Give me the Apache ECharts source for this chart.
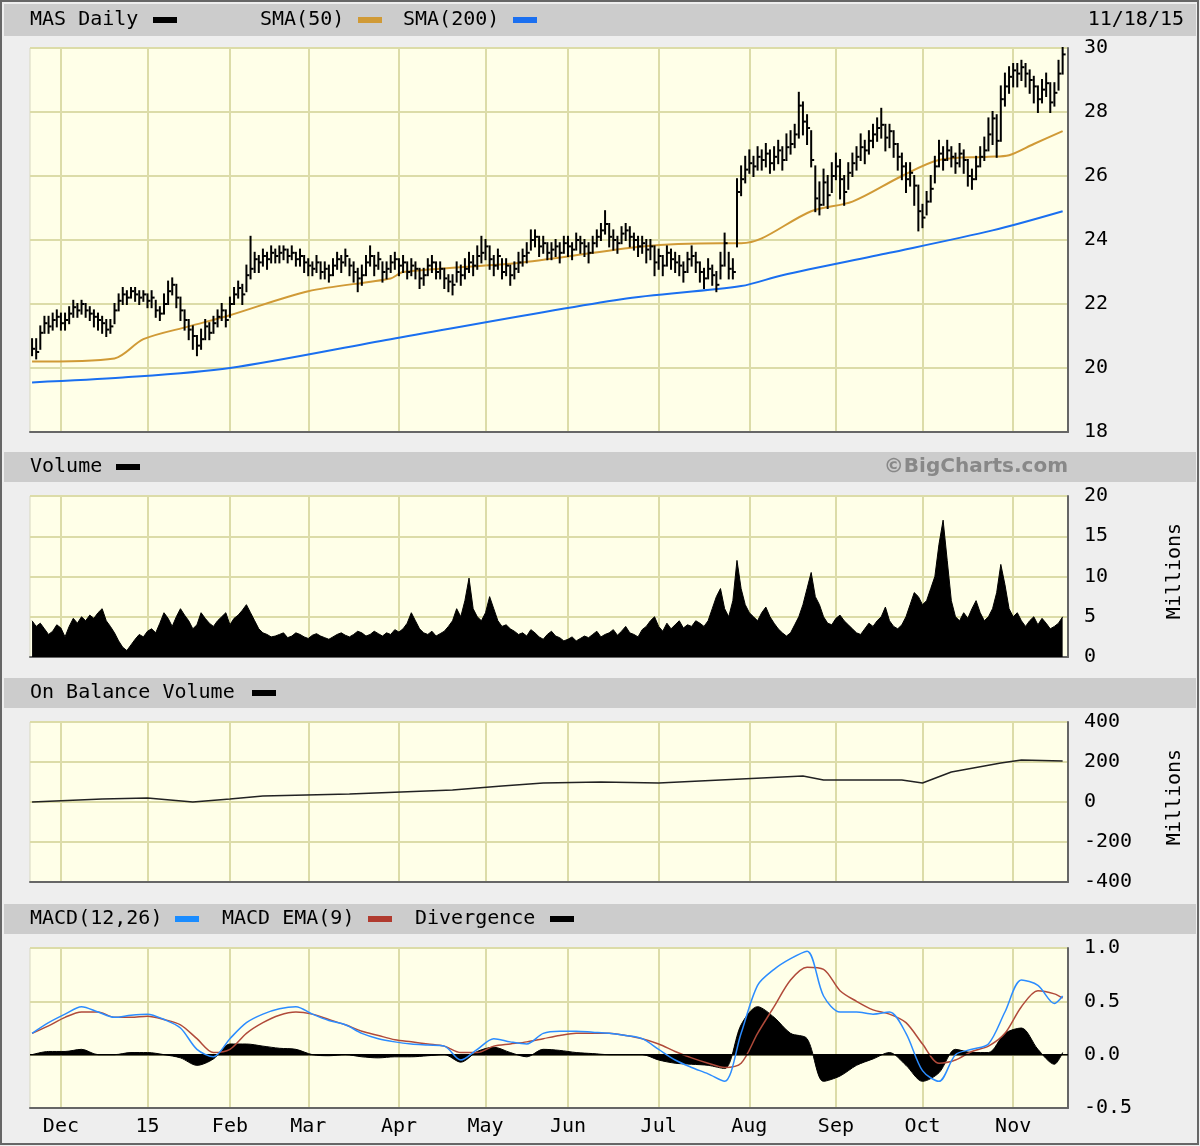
<!DOCTYPE html>
<html>
<head>
<meta charset="utf-8">
<script src="https://cdn.jsdelivr.net/npm/echarts@6/dist/echarts.min.js"></script>
<style>html,body{margin:0;padding:0;background:#eeeeee}#main{width:1200px;height:1146px}</style>
</head>
<body>
<div id="main"></div>
<script>
// trading-day index of each month's first session, and the labels under them
var monthTicks = [7, 28, 48, 67, 89, 110, 130, 152, 174, 195, 216, 238];
var monthLabels = ['Dec', '15', 'Feb', 'Mar', 'Apr', 'May', 'Jun', 'Jul', 'Aug', 'Sep', 'Oct', 'Nov'];

// daily close / high / low (Nov 19 2014 .. Nov 18 2015)
var closes = [
20.6,20.5,21.1,21.4,21.3,21.5,21.6,21.4,21.5,21.7, 21.9,21.8,22.0,21.8,21.7,21.6,21.5,21.4,21.2,21.3,
21.8,22.1,22.3,22.2,22.4,22.3,22.2,22.3,22.1,22.2, 21.8,21.7,22.0,22.4,22.6,22.2,21.8,21.5,21.2,21.0,
20.7,20.9,21.3,21.1,21.4,21.6,21.8,21.5,22.0,22.3, 22.5,22.3,22.9,23.1,23.4,23.3,23.5,23.4,23.6,23.5,
23.6,23.7,23.5,23.6,23.4,23.5,23.3,23.2,23.1,23.3, 23.0,23.1,22.9,23.2,23.4,23.3,23.5,23.2,23.0,22.8,
22.9,23.3,23.5,23.2,23.4,23.0,23.1,23.3,23.4,23.2, 23.3,23.0,23.2,23.1,22.8,22.9,23.2,23.3,23.0,23.1,
22.8,22.7,22.6,23.0,22.9,23.1,23.3,23.2,23.5,23.6, 23.8,23.4,23.2,23.5,23.0,23.2,22.9,23.1,23.3,23.5,
23.6,24.0,24.1,23.8,23.9,23.6,23.7,23.8,23.6,23.9, 23.8,23.7,24.0,23.9,23.8,23.6,23.9,24.1,24.3,24.5,
24.1,24.0,23.9,24.2,24.3,24.1,24.0,23.8,23.9,23.7, 23.8,23.3,23.5,23.2,23.6,23.4,23.3,23.2,23.0,23.4,
23.5,23.3,23.0,22.8,23.1,22.9,22.6,23.2,23.9,23.1, 23.0,25.5,25.9,26.2,26.4,26.3,26.6,26.5,26.7,26.4,
26.6,26.8,26.5,26.9,27.0,27.3,28.2,27.7,27.5,26.5, 25.3,25.1,25.8,25.4,26.0,26.3,25.9,25.5,26.1,26.4,
26.6,26.9,26.8,27.1,27.3,27.5,27.6,27.2,27.4,27.0, 26.6,26.3,25.9,26.1,25.7,24.9,24.7,25.2,25.6,26.3,
26.7,26.5,26.8,26.6,26.4,26.7,26.5,26.0,25.9,26.3, 26.6,26.8,27.3,27.8,27.1,28.4,28.8,29.1,29.3,29.2,
29.4,29.2,29.0,28.8,28.4,28.7,28.9,28.3,28.6,29.2,29.8];
var highs = [
20.9,20.9,21.3,21.6,21.6,21.7,21.8,21.7,21.7,21.9, 22.1,22.0,22.1,22.0,21.9,21.8,21.7,21.6,21.5,21.5,
22.0,22.3,22.5,22.4,22.5,22.5,22.4,22.4,22.3,22.4, 22.1,21.9,22.3,22.7,22.8,22.6,22.2,21.8,21.5,21.3,
21.0,21.2,21.5,21.4,21.6,21.8,22.0,21.8,22.2,22.5, 22.7,22.6,23.2,24.1,23.6,23.5,23.7,23.6,23.8,23.7,
23.8,23.8,23.7,23.8,23.6,23.7,23.5,23.4,23.3,23.5, 23.3,23.3,23.2,23.4,23.6,23.5,23.7,23.4,23.3,23.1,
23.2,23.5,23.8,23.5,23.6,23.3,23.3,23.5,23.6,23.4, 23.5,23.3,23.4,23.3,23.1,23.1,23.4,23.5,23.3,23.3,
23.1,22.9,22.9,23.3,23.2,23.4,23.6,23.5,23.8,24.1, 24.0,23.8,23.5,23.7,23.4,23.4,23.2,23.3,23.6,23.7,
23.9,24.3,24.3,24.1,24.1,23.9,23.9,24.0,23.9,24.1, 24.1,23.9,24.2,24.1,24.0,23.9,24.1,24.3,24.5,24.9,
24.5,24.3,24.1,24.4,24.5,24.4,24.2,24.1,24.1,24.0, 24.0,23.8,23.7,23.5,23.8,23.7,23.6,23.5,23.3,23.6,
23.8,23.6,23.3,23.1,23.4,23.2,23.0,23.6,24.2,23.6, 23.4,25.9,26.3,26.6,26.8,26.6,26.9,26.8,27.0,26.8,
26.9,27.1,26.9,27.3,27.4,27.6,28.6,28.3,27.9,27.4, 26.3,25.8,26.2,26.0,26.4,26.7,26.5,26.0,26.4,26.7,
26.9,27.3,27.1,27.4,27.6,27.8,28.1,27.6,27.6,27.4, 27.0,26.7,26.4,26.4,26.0,25.7,25.1,25.5,26.0,26.6,
27.1,26.9,27.1,26.9,26.7,27.0,26.8,26.5,26.2,26.6, 26.9,27.2,27.8,28.0,27.9,28.8,29.2,29.4,29.5,29.5,
29.6,29.5,29.3,29.1,28.8,29.0,29.2,28.9,28.9,29.6,30.0];
var lows = [
20.4,20.3,20.6,21.1,21.1,21.2,21.3,21.2,21.2,21.4, 21.6,21.6,21.7,21.6,21.5,21.3,21.2,21.1,21.0,21.1,
21.4,21.8,22.0,22.0,22.2,22.1,22.0,22.1,21.9,21.9, 21.6,21.5,21.7,22.0,22.3,21.9,21.5,21.2,20.9,20.6,
20.4,20.6,20.9,20.9,21.1,21.3,21.5,21.3,21.6,22.0, 22.2,22.0,22.4,22.8,23.0,23.0,23.2,23.1,23.3,23.3,
23.3,23.4,23.3,23.4,23.2,23.2,23.0,22.9,22.9,23.0, 22.8,22.8,22.7,22.9,23.1,23.0,23.2,22.9,22.7,22.4,
22.6,22.9,23.2,22.9,23.1,22.7,22.8,23.0,23.1,22.9, 23.0,22.8,22.9,22.8,22.5,22.6,22.9,23.0,22.8,22.8,
22.5,22.4,22.3,22.7,22.6,22.8,23.0,22.9,23.1,23.3, 23.4,23.1,22.9,23.1,22.8,22.9,22.6,22.8,23.0,23.2,
23.3,23.7,23.8,23.5,23.6,23.4,23.4,23.5,23.3,23.6, 23.5,23.4,23.7,23.6,23.5,23.3,23.6,23.8,24.0,24.2,
23.8,23.7,23.6,23.9,24.0,23.8,23.7,23.5,23.6,23.3, 23.4,22.9,23.1,22.9,23.2,23.1,23.0,22.9,22.7,23.0,
23.2,23.0,22.7,22.5,22.8,22.6,22.4,22.8,23.2,22.8, 22.8,23.8,25.4,25.8,26.1,26.0,26.2,26.2,26.3,26.1,
26.2,26.4,26.2,26.5,26.7,26.9,27.2,27.3,27.0,26.3, 24.9,24.8,25.1,25.0,25.5,25.9,25.3,25.1,25.6,26.0,
26.2,26.5,26.4,26.7,26.9,27.1,27.2,26.8,26.9,26.6, 26.2,25.9,25.5,25.7,25.1,24.3,24.4,24.8,25.2,25.8,
26.3,26.2,26.5,26.3,26.1,26.3,26.1,25.7,25.6,25.9, 26.3,26.5,26.8,27.0,26.6,27.1,28.2,28.6,28.8,28.8,
29.0,28.8,28.6,28.3,28.0,28.3,28.5,28.0,28.2,28.7,29.2];

// moving averages read at anchor days: [day index, value]
var sma50 = [[0,20.2],[20,20.3],[27,20.9],[38,21.3],[48,21.65],[67,22.4],[87,22.8],[90,23.0],[119,23.3],
  [148,23.8],[167,23.9],[172,23.9],[177,24.05],[189,24.9],[199,25.2],[211,26.0],[220,26.5],[232,26.6],
  [237,26.65],[243,27.0],[250,27.4]];
var sma200 = [[0,19.55],[22,19.7],[48,20.0],[87,20.9],[143,22.15],[172,22.56],[182,22.9],[208,23.6],[233,24.3],[250,24.9]];

// daily volume, millions
var volume = [
4.5,3.8,4.2,3.5,2.8,3.2,4.0,3.6,2.5,3.8, 4.8,4.2,5.0,4.5,5.2,4.8,5.5,6.0,4.5,3.8,
3.0,2.0,1.2,0.8,1.5,2.2,2.8,2.5,3.2,3.5, 3.0,4.2,5.5,4.8,3.8,5.0,6.0,5.2,4.5,3.5,
4.0,5.5,4.8,4.2,3.8,4.5,5.0,5.5,4.0,4.8, 5.2,5.8,6.5,5.5,4.5,3.5,3.0,2.8,2.5,2.6,
2.8,3.0,2.4,2.6,3.0,2.8,2.5,2.3,2.7,2.9, 2.6,2.4,2.2,2.5,2.8,3.0,2.7,2.5,2.8,3.2,
3.0,2.6,2.8,3.2,2.9,2.6,3.0,2.8,3.4,3.1, 3.5,4.2,5.5,4.5,3.5,3.0,2.8,3.2,2.6,2.9,
3.2,3.8,4.5,6.0,5.0,7.0,9.8,6.0,5.0,4.5, 5.5,7.5,6.0,4.5,3.8,4.0,3.5,3.2,2.8,3.0,
2.6,3.4,3.0,2.5,2.2,2.8,3.2,2.6,2.4,2.0, 2.2,2.5,2.0,2.3,2.6,2.4,2.8,3.2,2.5,2.8,
3.0,3.4,2.7,3.2,3.8,3.0,2.8,2.5,3.4,3.8, 4.5,5.0,3.8,3.2,4.2,3.5,4.0,4.5,3.6,4.0,
3.8,4.5,4.2,3.8,4.5,6.0,7.5,8.5,6.0,5.0, 7.0,12.0,8.5,6.5,5.5,5.0,4.5,5.5,6.2,5.0,
4.2,3.5,3.0,2.6,3.0,4.0,5.0,6.5,8.5,10.5, 7.5,6.5,5.0,4.2,4.0,4.8,5.2,4.5,4.0,3.5,
3.0,2.8,3.5,4.2,3.8,4.5,5.0,6.2,4.5,3.8, 3.5,4.0,5.0,6.5,8.0,7.5,6.5,7.0,8.5,10.0,
14.0,17.0,12.0,7.0,5.0,4.5,5.5,4.8,6.0,7.0, 5.5,4.5,5.0,6.0,8.0,11.5,9.0,6.0,5.0,5.5,
4.5,3.8,4.5,5.0,4.0,4.8,4.2,3.5,3.8,4.2,5.0];

// on balance volume, millions, at anchor days
var obv = [[0,0],[17,15],[28,20],[39,0],[48,15],[56,30],[77,40],[102,60],[114,80],[124,95],[138,100],
  [152,95],[167,110],[187,130],[192,110],[211,110],[216,95],[223,150],[235,195],[240,210],[250,205]];

// MACD and its 9-day EMA every 4th day
var macdDays = [0,4,8,12,16,20,24,28,32,36,40,44,48,52,56,60,64,68,72,76,80,84,88,92,96,100,104,108,112,116,
  120,124,128,132,136,140,144,148,152,156,160,164,168,172,176,180,184,188,192,196,200,204,208,212,216,220,
  224,228,232,236,240,244,248,250];
var macd = [0.2,0.3,0.38,0.45,0.4,0.35,0.37,0.38,0.33,0.25,0.05,-0.02,0.15,0.3,0.38,0.43,0.45,0.38,0.32,0.28,
  0.2,0.15,0.12,0.1,0.09,0.08,-0.05,0.05,0.15,0.12,0.1,0.2,0.22,0.22,0.21,0.2,0.18,0.15,0.05,-0.05,
  -0.12,-0.18,-0.25,0.2,0.65,0.8,0.9,0.97,0.55,0.4,0.4,0.38,0.4,0.2,-0.15,-0.25,0,0.05,0.1,0.4,0.7,0.65,0.48,0.55];
var macdEma = [0.2,0.27,0.35,0.4,0.4,0.35,0.35,0.36,0.33,0.28,0.15,0.02,0.05,0.2,0.3,0.37,0.4,0.38,0.33,0.28,
  0.22,0.18,0.14,0.12,0.1,0.08,0.02,0.02,0.08,0.1,0.12,0.15,0.18,0.2,0.2,0.2,0.18,0.15,0.1,0.03,
  -0.03,-0.08,-0.12,-0.08,0.2,0.45,0.7,0.82,0.8,0.6,0.5,0.42,0.38,0.3,0.1,-0.08,-0.05,0.03,0.08,0.2,0.45,0.6,0.57,0.53];

var FONT = 'DejaVu Sans Mono';
var FS = 20;
var GRIDC = '#dcdca8';
var PLOTBG = '#ffffe8';

var chart = echarts.init(document.getElementById('main'));

var panels = [
  {top: 48, height: 384, min: 18, max: 30, interval: 2},
  {top: 496, height: 161, min: 0, max: 20, interval: 5},
  {top: 722, height: 160, min: -400, max: 400, interval: 200},
  {top: 948, height: 160, min: -0.5, max: 1.0, interval: 0.5}
];

var grids = [], xAxes = [], yAxes = [];
panels.forEach(function (p, k) {
  grids.push({left: 30, right: 132, top: p.top, height: p.height, show: true,
    backgroundColor: PLOTBG, borderColor: '#d8d8c0', borderWidth: 1});
  xAxes.push({type: 'value', gridIndex: k, min: -0.5, max: 251.3,
    axisLine: {show: true, onZero: false, lineStyle: {color: '#666', width: 2}},
    axisTick: {show: false, customValues: monthTicks},
    axisLabel: {show: k == 3, customValues: monthTicks, fontFamily: FONT, fontSize: FS, color: '#000', margin: 9,
      formatter: function (v) { return monthLabels[monthTicks.indexOf(v)]; }},
    splitLine: {show: true, lineStyle: {color: GRIDC, width: 2}}});
  yAxes.push({type: 'value', gridIndex: k, position: 'right', min: p.min, max: p.max, interval: p.interval,
    axisLine: {show: true, onZero: false, lineStyle: {color: '#666', width: 2}}, axisTick: {show: false},
    axisLabel: {fontFamily: FONT, fontSize: FS, color: '#000', margin: 16,
      formatter: function (v) { return k == 3 ? v.toFixed(1) : String(v); }},
    splitLine: {show: true, lineStyle: {color: GRIDC, width: 2}}});
});

var hlc = closes.map(function (c, i) { return [i, lows[i], highs[i], c]; });

function bars(params, api) {
  var i = api.value(0);
  var lo = api.coord([i, api.value(1)]);
  var hi = api.coord([i, api.value(2)]);
  var cl = api.coord([i, api.value(3)]);
  var st = {stroke: '#000', lineWidth: 2};
  return {type: 'group', children: [
    {type: 'line', shape: {x1: hi[0], y1: hi[1] - 1, x2: lo[0], y2: lo[1] + 1}, style: st},
    {type: 'line', shape: {x1: cl[0], y1: cl[1], x2: cl[0] + 3, y2: cl[1]}, style: st}
  ]};
}

var div = macdDays.map(function (d, i) { return [d, +(macd[i] - macdEma[i]).toFixed(3)]; });

function header(y, h) {
  return {type: 'rect', shape: {x: 4, y: y, width: 1192, height: h}, style: {fill: '#cccccc'}, silent: true};
}
function txt(x, y, s, opt) {
  return {type: 'text', x: x, y: y, style: Object.assign({text: s, fontFamily: FONT, fontSize: FS, fill: '#000',
    textVerticalAlign: 'middle'}, opt || {}), silent: true};
}
function swatch(x, y, color) {
  return {type: 'rect', shape: {x: x, y: y - 3, width: 24, height: 6}, style: {fill: color}, silent: true};
}
function vtxt(x, y, s) {
  return {type: 'text', x: x, y: y, rotation: Math.PI / 2, style: {text: s, fontFamily: FONT, fontSize: FS,
    fill: '#000', textAlign: 'center', textVerticalAlign: 'middle'}, silent: true};
}

chart.setOption({
  animation: false,
  backgroundColor: '#eeeeee',
  grid: grids,
  xAxis: xAxes,
  yAxis: yAxes,
  graphic: [
    {type: 'rect', shape: {x: 1, y: 1, width: 1197, height: 1143}, style: {fill: 'none', stroke: '#666', lineWidth: 2}, silent: true},
    header(4, 32), txt(30, 20, 'MAS Daily'), swatch(153, 20, '#000'),
    txt(260, 20, 'SMA(50)'), swatch(358, 20, '#d09a36'),
    txt(403, 20, 'SMA(200)'), swatch(513, 20, '#1a6ff0'),
    txt(1184, 20, '11/18/15', {textAlign: 'right'}),
    header(452, 30), txt(30, 467, 'Volume'), swatch(116, 467, '#000'),
    txt(1068, 467, '©BigCharts.com', {textAlign: 'right', fontFamily: 'DejaVu Sans', fontWeight: 'bold', fontSize: 20, fill: '#888'}),
    header(678, 30), txt(30, 693, 'On Balance Volume'), swatch(252, 693, '#000'),
    header(904, 30), txt(30, 919, 'MACD(12,26)'), swatch(175, 919, '#1a8cff'),
    txt(222, 919, 'MACD EMA(9)'), swatch(368, 919, '#b03a2e'),
    txt(415, 919, 'Divergence'), swatch(550, 919, '#000'),
    vtxt(1175, 571, 'Millions'),
    vtxt(1175, 797, 'Millions')
  ],
  series: [
    {type: 'custom', xAxisIndex: 0, yAxisIndex: 0, renderItem: bars, data: hlc, z: 5},
    {type: 'line', xAxisIndex: 0, yAxisIndex: 0, data: sma50, showSymbol: false, smooth: 0.3,
      lineStyle: {color: '#d09a36', width: 2}},
    {type: 'line', xAxisIndex: 0, yAxisIndex: 0, data: sma200, showSymbol: false, smooth: 0.3,
      lineStyle: {color: '#1a6ff0', width: 2}},
    {type: 'line', xAxisIndex: 1, yAxisIndex: 1, showSymbol: false,
      data: volume.map(function (v, i) { return [i, v]; }),
      lineStyle: {color: '#000', width: 1}, areaStyle: {color: '#000', opacity: 1}},
    {type: 'line', xAxisIndex: 2, yAxisIndex: 2, data: obv, showSymbol: false,
      lineStyle: {color: '#222', width: 1.5}},
    {type: 'line', xAxisIndex: 3, yAxisIndex: 3, data: div, showSymbol: false, smooth: 0.3,
      lineStyle: {color: '#000', width: 1}, areaStyle: {color: '#000', opacity: 1, origin: 0}, z: 2},
    {type: 'line', xAxisIndex: 3, yAxisIndex: 3, data: macdDays.map(function (d, i) { return [d, macd[i]]; }),
      showSymbol: false, smooth: 0.3, lineStyle: {color: '#2b8cff', width: 1.5}, z: 4},
    {type: 'line', xAxisIndex: 3, yAxisIndex: 3, data: macdDays.map(function (d, i) { return [d, macdEma[i]]; }),
      showSymbol: false, smooth: 0.3, lineStyle: {color: '#b04a3a', width: 1.5}, z: 3},
    {type: 'line', xAxisIndex: 3, yAxisIndex: 3, data: [[-0.5, 0], [251.3, 0]], showSymbol: false, silent: true,
      lineStyle: {color: '#000', width: 1.5}, z: 3}
  ]
});
</script>
</body>
</html>
